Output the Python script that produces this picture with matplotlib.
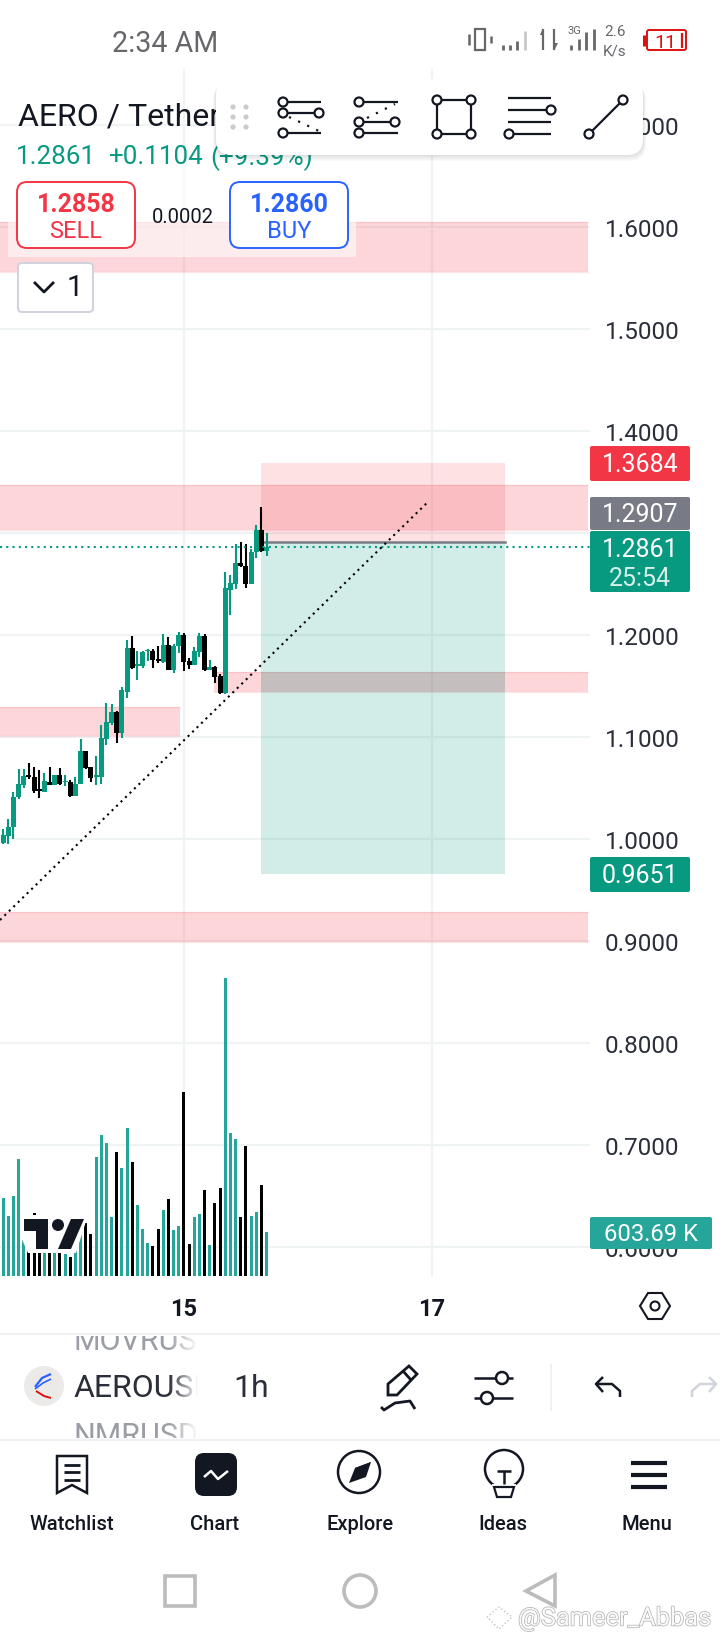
import matplotlib
matplotlib.use('Agg')
import matplotlib.pyplot as plt
import numpy as np
from matplotlib.patches import Rectangle, FancyBboxPatch, Circle, Polygon
import matplotlib.patheffects as pe

plt.rcParams['font.family'] = ['Roboto', 'DejaVu Sans']

# hourly candles, hour 0 is the 15th
hours = list(range(-35, 17))
opens = [0.9957, 1.0029, 1.0111, 1.0405, 1.0526, 1.0624, 1.0604, 1.0487, 1.0460, 1.0552, 1.0529, 1.0624, 1.0552,
         1.0552, 1.0421, 1.0536, 1.0859, 1.0702, 1.0604, 1.0604, 1.0977, 1.1134, 1.1242, 1.1036, 1.1438, 1.1869,
         1.1693, 1.1693, 1.1840, 1.1840, 1.1761, 1.1732, 1.1898, 1.1653, 1.1889, 1.1996, 1.1742, 1.1702, 1.1830,
         1.1987, 1.1653, 1.1683, 1.1594, 1.1428, 1.2438, 1.2496, 1.2702, 1.2673, 1.2496, 1.2810, 1.3026, 1.2823]
highs = [1.0094, 1.0192, 1.0454, 1.0683, 1.0683, 1.0742, 1.0702, 1.0673, 1.0640, 1.0702, 1.0624, 1.0692, 1.0624,
         1.0575, 1.0604, 1.0977, 1.0859, 1.0702, 1.0810, 1.1114, 1.1330, 1.1320, 1.1251, 1.1487, 1.1947, 1.1987,
         1.1840, 1.1840, 1.1859, 1.1859, 1.1889, 1.2006, 1.1977, 1.1908, 1.2026, 1.2016, 1.1771, 1.1879, 1.2016,
         1.2006, 1.1751, 1.1693, 1.1614, 1.2614, 1.2585, 1.2889, 1.2908, 1.2889, 1.2840, 1.3075, 1.3251, 1.2996]
lows = [0.9947, 0.9947, 0.9996, 1.0389, 1.0496, 1.0585, 1.0447, 1.0398, 1.0460, 1.0529, 1.0529, 1.0529, 1.0516,
        1.0408, 1.0421, 1.0536, 1.0683, 1.0555, 1.0526, 1.0536, 1.0918, 1.1114, 1.0938, 1.0987, 1.1379, 1.1663,
        1.1555, 1.1673, 1.1742, 1.1673, 1.1722, 1.1722, 1.1653, 1.1624, 1.1820, 1.1643, 1.1663, 1.1702, 1.1781,
        1.1643, 1.1653, 1.1526, 1.1418, 1.1418, 1.2193, 1.2447, 1.2663, 1.2457, 1.2496, 1.2751, 1.2810, 1.2771]
closes = [1.0032, 1.0111, 1.0405, 1.0536, 1.0617, 1.0604, 1.0470, 1.0470, 1.0565, 1.0529, 1.0624, 1.0536, 1.0565,
          1.0421, 1.0536, 1.0859, 1.0692, 1.0598, 1.0624, 1.0987, 1.1144, 1.1242, 1.1036, 1.1457, 1.1869, 1.1673,
          1.1712, 1.1830, 1.1853, 1.1751, 1.1742, 1.1898, 1.1653, 1.1889, 1.1996, 1.1732, 1.1702, 1.1840, 1.1987,
          1.1653, 1.1683, 1.1585, 1.1428, 1.2457, 1.2506, 1.2702, 1.2673, 1.2496, 1.2810, 1.3026, 1.2820, 1.2861]
# volume in K
volumes = [1074, 825, 1101, 1613, 562, 452, 866, 507, 553, 461, 507, 553, 300, 258, 369, 576, 737, 576, 1640, 1945,
           1834, 811, 1710, 1488, 2041, 1571, 977, 645, 452, 410, 645, 908, 1060, 631, 687, 2539, 438, 811, 852, 1184,
           424, 1005, 1212, 4115, 1972, 1889, 811, 1793, 825, 880, 1253, 604]

price_ticks = [0.6, 0.7, 0.8, 0.9, 1.0, 1.1, 1.2, 1.3, 1.4, 1.5, 1.6, 1.7]
# 1.3000 sits behind the price tags, so it stays blank
price_labels = ['0.6000', '0.7000', '0.8000', '0.9000', '1.0000', '1.1000', '1.2000', '', '1.4000', '1.5000', '1.6000',
                '1.7000']
date_ticks = [0, 48]
date_labels = ['15', '17']

# (hour start, hour end, low, high)
zone_from, zone_to = -36, 78.2
zones = [(zone_from, zone_to, 1.5559, 1.6043),
         (zone_from, zone_to, 1.3029, 1.3467),
         (zone_from, -0.8, 1.1010, 1.1291),
         (5.8, zone_to, 1.1438, 1.1634),
         (zone_from, zone_to, 0.8988, 0.9286)]
pos_start, pos_end = 14.9, 62.2
stop_price, entry_price, target_price = 1.3684, 1.2907, 0.9651
last_price = 1.2861
trend_x = [-35.6, 47]
trend_y = [0.9203, 1.329]

UP = '#089981'
VOL_UP = '#26a69a'
RED = '#f23645'
DARK = '#131722'
W, H = 720, 1640

fig = plt.figure(figsize=(7.2, 16.4), dpi=100, facecolor='white')
rect = [0, 1 - 1277 / H, 590 / W, (1277 - 70) / H]

# price pane
ax = fig.add_axes(rect, zorder=1)
ax.set_xlim(-35.6, 78.6)
ax.set_ylim(0.5713, 1.7546)
for s in ax.spines.values():
    s.set_visible(False)
ax.yaxis.tick_right()
ax.set_yticks(price_ticks)
ax.set_yticklabels(price_labels, fontsize=17.5, color='#2a2e39')
ax.set_xticks(date_ticks)
ax.set_xticklabels(date_labels, fontsize=17, fontweight='bold', color=DARK)
ax.tick_params(axis='y', length=0, pad=10.8)
ax.tick_params(axis='x', length=0, pad=15)
ax.grid(color='#f0f3f4', linewidth=1.5)
ax.set_axisbelow(True)

for x0, x1, lo, hi in zones:
    ax.fill_between([x0, x1], lo, hi, facecolor=RED, alpha=0.2, edgecolor='none', zorder=2)
    ax.plot([x0, x1], [lo, lo], color=RED, alpha=0.12, lw=1, zorder=2)
    ax.plot([x0, x1], [hi, hi], color=RED, alpha=0.12, lw=1, zorder=2)

ax.fill_between([pos_start, pos_end], entry_price, stop_price, facecolor=RED, alpha=0.15, edgecolor='none', zorder=3)
ax.fill_between([pos_start, pos_end], target_price, entry_price, facecolor=UP, alpha=0.18, edgecolor='none', zorder=3)
ax.fill_between([pos_start, pos_end], zones[3][2], zones[3][3], facecolor='#707070', alpha=0.12, edgecolor='none', zorder=3)
ax.plot([pos_start, pos_end], [entry_price, entry_price], color='#787b86', lw=1.8, zorder=3)

o, c = np.array(opens), np.array(closes)
colors = [UP if b >= a else 'black' for a, b in zip(opens, closes)]
ax.vlines(hours, lows, highs, colors=colors, linewidth=1.5, zorder=4)
ax.bar(hours, np.abs(c - o), bottom=np.minimum(o, c), width=0.95, color=colors, zorder=5)

ax.plot([-35.6, 78.6], [last_price, last_price], color=UP, lw=1.5, ls=(0, (1, 2)), zorder=6)
ax.plot(trend_x, trend_y, color='black', lw=1.5, ls=(0, (1, 2)), zorder=7)

# volume pane
vol_ax = fig.add_axes(rect, zorder=2, sharex=ax)
vol_ax.patch.set_visible(False)
vol_ax.set_ylim(0, 16684)
vol_ax.axis('off')
vol_colors = [VOL_UP if b >= a else 'black' for a, b in zip(opens, closes)]
vol_ax.bar(hours, volumes, width=0.6, color=vol_colors)

# everything else of the screen, in pixels
ui = fig.add_axes([0, 0, 1, 1], zorder=5)
ui.set_xlim(0, W)
ui.set_ylim(H, 0)
ui.axis('off')


def txt(x, y, s, size, color=DARK, weight='normal', ha='center', **kw):
    return ui.text(x, y + 1.5, s, fontsize=size, color=color, fontweight=weight, ha=ha, va='center', **kw)


def box(x0, y0, x1, y1, r=6, fc='white', ec='none', lw=0, **kw):
    p = FancyBboxPatch((x0 + r, y0 + r), x1 - x0 - 2 * r, y1 - y0 - 2 * r, boxstyle=f'round,pad={r},rounding_size={r}',
                       fc=fc, ec=ec, lw=lw, **kw)
    ui.add_patch(p)
    return p


def line(xs, ys, color=DARK, lw=1.6, **kw):
    ui.plot(xs, ys, color=color, lw=lw, solid_capstyle=kw.pop('cap', 'butt'), zorder=7, **kw)


def dot(x, y, r=4.5, lw=1.6, ec=DARK):
    ui.add_patch(Circle((x, y), r, fc='white', ec=ec, lw=lw, zorder=8))


# status bar
txt(112, 42, '2:34 AM', 20.6, '#66676b', ha='left')
GR = '#66676b'
ui.add_patch(Rectangle((475, 30), 10, 21, fc='none', ec=GR, lw=1.6))
line([469, 469], [35, 46], GR, 1.8)
line([491, 491], [37, 44], GR, 1.8)
for xb, yt, col in [(504, 46, GR), (511, 46, GR), (518, 42, GR), (526, 32, '#c8c8c8')]:
    line([xb - 1, xb - 1], [yt, 51], col, 2)
line([543, 543], [30, 51], GR, 1.6)
line([554, 554], [30, 51], GR, 1.6)
ui.add_patch(Polygon([[540, 36], [543, 29], [543, 36]], fc=GR))
ui.add_patch(Polygon([[554, 52], [558, 44], [554, 44]], fc=GR))
txt(574, 30, '3G', 8, GR)
for xb, yt in [(571, 46), (579, 40), (586, 33), (594, 30)]:
    line([xb, xb], [yt, 51], GR, 2)
txt(615, 31, '2.6', 11, GR)
txt(615, 50, 'K/s', 11, GR)
box(647, 31, 686, 51, r=2, fc='none', ec='#e01010', lw=1.4)
line([644, 644], [36, 47], '#e01010', 2.2)
txt(665, 41, '11', 14, '#e01010')
line([682, 682], [34, 49], '#e01010', 1.6)

# header
txt(18, 115, 'AERO / Tether', 23, ha='left')
txt(16, 156, '1.2861', 18.7, UP, ha='left')
txt(108, 156, '+0.1104', 18.7, UP, ha='left')
txt(210, 156, '(+9.39%)', 18.7, UP, ha='left')

ui.add_patch(Rectangle((8, 165), 348, 93, fc='white', alpha=0.55, ec='none'))
box(17, 183, 135, 249, r=10, ec=RED, lw=1.4)
txt(76, 204, '1.2858', 18, RED, 'bold')
txt(76, 230, 'SELL', 17, RED)
box(230, 183, 348, 249, r=10, ec='#2962ff', lw=1.4)
txt(289, 204, '1.2860', 18, '#2962ff', 'bold')
txt(289, 230, 'BUY', 17, '#2962ff')
txt(183, 216, '0.0002', 14.6)
box(18, 264, 93, 313, r=4, ec='#d1d4dc', lw=1.5)
line([34, 44, 54], [283, 293, 283], DARK, 2)
txt(75, 287, '1', 21)

# drawing toolbar, above the header text
for i in range(1, 7):
    box(216 - i / 2, 80 + i, 643 + i / 2, 156 + i, r=16, fc='black', alpha=0.018, zorder=5)
box(216, 80, 643, 156, r=16, zorder=6)
for dx in (233, 246):
    for dy in (108, 118, 128):
        ui.add_patch(Circle((dx, dy), 2.6, fc='#c9cbd0', ec='none', zorder=7))
# fib retracement
line([283, 321], [103, 103])
line([283, 319], [114, 114])
line([283, 321], [134, 134])
line([289, 319], [118, 132], ls=(0, (1, 3.5)))
for p in [(283, 103), (283, 114), (319, 114), (283, 134)]:
    dot(*p)
# fib extension
line([359, 398], [103, 103])
line([359, 395], [123, 123])
line([359, 398], [134, 134])
line([367, 395], [119, 105], ls=(0, (1, 3.5)))
for p in [(359, 103), (359, 123), (395, 123), (359, 134)]:
    dot(*p)
# rectangle
ui.add_patch(Rectangle((437, 101), 34, 34, fc='none', ec=DARK, lw=1.6, zorder=7))
for p in [(437, 101), (471, 101), (437, 135), (471, 135)]:
    dot(*p)
# parallel lines
line([508, 551], [99, 99])
line([508, 551], [111, 111])
line([508, 551], [123, 123])
line([509, 551], [135, 135])
dot(551, 111)
dot(509, 135)
# trend line
line([589, 623], [135, 101])
dot(589, 135)
dot(623, 101)

# price scale tags
for y0, y1, col, s in [(447, 482, RED, '1.3684'), (498, 531, '#787b86', '1.2907'), (858, 893, UP, '0.9651')]:
    box(590, y0, 690, y1, r=2, fc=col)
    txt(640, (y0 + y1) / 2 - 1, s, 18, 'white')
box(590, 532, 690, 593, r=2, fc=UP)
txt(640, 549, '1.2861', 18, 'white')
txt(640, 578, '25:54', 18, '#d5efe9')
box(590, 1218, 712, 1250, r=2, fc=VOL_UP)
txt(651, 1233, '603.69 K', 17.2, 'white')

# TV logo
ui.add_patch(Polygon([[20, 1216], [88, 1216], [76, 1254], [28, 1254], [20, 1236]], fc='white', ec='none'))
ui.add_patch(Polygon([[24, 1220], [48, 1220], [48, 1250], [36, 1250], [36, 1232], [24, 1232]], fc=DARK))
ui.add_patch(Circle((58, 1226), 6, fc=DARK))
ui.add_patch(Polygon([[71, 1220], [84, 1220], [71, 1250], [58, 1250]], fc=DARK))

# settings hexagon
hx, hy = 655, 1307
ui.add_patch(Polygon([[hx - 15, hy], [hx - 7, hy - 13], [hx + 7, hy - 13], [hx + 15, hy], [hx + 7, hy + 13], [hx - 7, hy + 13]],
                     fc='none', ec=DARK, lw=1.5))
ui.add_patch(Circle((hx, hy), 4.5, fc='none', ec=DARK, lw=1.5))
ui.plot([0, W], [1335, 1335], color='#eff1f5', lw=1.6)
ui.plot([0, W], [1441, 1441], color='#eff1f5', lw=1.6)

# symbol roller, cut off above and below
t1 = txt(73, 1340, 'MOVRUSDT', 22, '#9b9ea4', ha='left')
t2 = txt(73, 1435, 'NMRUSDT', 22, '#9b9ea4', ha='left')
t3 = txt(73, 1387, 'AEROUSDT', 23, '#2a2e39', ha='left')
clip_a = Rectangle((60, 1337), 140, 102, transform=ui.transData)
for t in (t1, t2, t3):
    t.set_clip_on(True)
    t.set_clip_path(clip_a)
fade = np.ones((1, 40, 4))
fade[0, :, 3] = np.r_[np.linspace(0, 1, 20), np.ones(20)]
ui.imshow(fade, extent=(168, 230, 1439, 1337), aspect='auto', zorder=4)
ui.set_xlim(0, W)
ui.set_ylim(H, 0)
ui.add_patch(Circle((44, 1387), 20, fc='#ece9e9', ec='none'))
line([35, 42, 51], [1388, 1379, 1375], '#2962ff', 1.6)
line([35, 43, 51], [1390, 1384, 1380], '#2962ff', 1.2)
line([36, 44, 51], [1392, 1397, 1399], '#e01010', 1.4)
txt(233, 1387, '1h', 23, '#2a2e39', ha='left')

# pencil
ui.add_patch(Polygon([[388, 1396], [388, 1385], [409, 1367], [417, 1375], [397, 1396]], fc='none', ec=DARK, lw=2))
line([403, 411], [1372, 1381], lw=2)
line([381, 384, 395, 410, 415], [1408, 1411, 1404, 1402, 1410], DARK, 2)
# sliders
line([474, 513], [1379, 1379], lw=1.8)
line([474, 513], [1399, 1399], lw=1.8)
dot(502, 1379, r=6, lw=1.8)
dot(487, 1399, r=6, lw=1.8)
line([551, 551], [1365, 1412], '#eff1f5', 1.4)
# undo / redo
line([620, 620, 612, 596], [1398, 1392, 1385, 1385], DARK, 1.8)
line([603, 596, 603], [1378, 1385, 1393], DARK, 1.8)
line([692, 692, 700, 716], [1398, 1392, 1385, 1385], '#d1d4dc', 1.8)
line([709, 716, 709], [1378, 1385, 1393], '#d1d4dc', 1.8)

# bottom navigation
ui.add_patch(Polygon([[57, 1457], [87, 1457], [87, 1494], [72, 1486], [57, 1494]], fc='none', ec=DARK, lw=1.8))
for ly in (1466, 1473, 1481):
    line([64, 80], [ly, ly], DARK, 2)
box(195, 1454, 237, 1497, r=9, fc=DARK)
line([204, 211, 218, 228], [1478, 1472, 1480, 1472], 'white', 1.8)
ui.add_patch(Circle((359, 1473), 21, fc='none', ec=DARK, lw=1.8))
ui.add_patch(Polygon([[371, 1463], [366, 1478], [349, 1484], [355, 1469]], fc=DARK))
ui.add_patch(Polygon([[371, 1463], [355, 1469], [361, 1474]], fc=DARK))
ui.add_patch(Circle((504, 1470), 19, fc='none', ec=DARK, lw=1.8))
ui.add_patch(Rectangle((492, 1485), 24, 12, fc='white', ec='none'))
ui.add_patch(Polygon([[494, 1488], [514, 1488], [511, 1498], [497, 1498]], fc='none', ec=DARK, lw=1.6))
line([497, 511], [1472, 1472], DARK, 1.8)
line([504, 504], [1472, 1485], DARK, 1.8)
for ly in (1464, 1476, 1488):
    line([631, 667], [ly, ly], DARK, 3)
nav_labels = ['Watchlist', 'Chart', 'Explore', 'Ideas', 'Menu']
nav_x = [72, 215, 360, 503, 647]
for nx, lab in zip(nav_x, nav_labels):
    txt(nx, 1523, lab, 14.5, weight='medium')

# android keys
KEY = '#bcbcbc'
ui.add_patch(Rectangle((165, 1577), 30, 30, fc='none', ec=KEY, lw=2.6))
ui.add_patch(Circle((360, 1592), 16, fc='none', ec=KEY, lw=2.6))
ui.add_patch(Polygon([[555, 1576], [526, 1592], [555, 1607]], fc='none', ec=KEY, lw=2.6))

# watermark
txt(518, 1618, '@Sameer_Abbas', 18.3, 'white', ha='left', alpha=0.9,
    path_effects=[pe.withStroke(linewidth=1.0, foreground='#a8a8a8')])
ui.add_patch(Polygon([[487, 1618], [499, 1608], [512, 1618], [499, 1630]], fc='none', ec='#c4c4c4', lw=1, ls=':'))

fig.savefig('out.png', dpi=100)
